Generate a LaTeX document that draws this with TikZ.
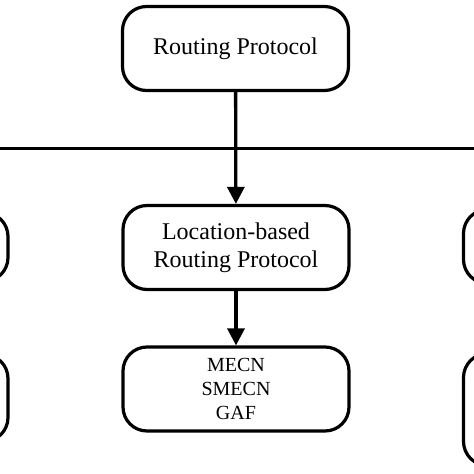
\documentclass[tikz,border=0pt]{standalone}
\usepackage{fontspec}
\setmainfont{Liberation Serif}
\usetikzlibrary{arrows.meta}

\tikzset{
  box/.style={draw, line width=3.2pt, rounded corners=24pt, minimum width=226pt,
    minimum height=84pt, align=center, font=\fontsize{24}{28}\selectfont},
  smallbox/.style={box, font=\fontsize{20}{24}\selectfont},
  link/.style={line width=3.3pt, -{Triangle[length=17pt,width=17pt]}}
}

\begin{document}
\begin{tikzpicture}[x=1pt,y=-1pt]
\clip (0,0) rectangle (474,474);
\fill[white] (0,0) rectangle (474,474);
% root
\node[box] (root) at (235.5,48.5) {Routing Protocol};
% middle column
\node[box] (loc) at (236,247.5) {Location-based\\Routing Protocol};
\node[smallbox] (locex) at (236,389) {MECN\\SMECN\\GAF};
% columns cut off at the sides
\node[box, minimum height=69pt] (left) at (-105,247) {};
\node[box, minimum height=87pt] (leftex) at (-105,398) {};
\node[box, minimum height=74pt] (right) at (576.5,246.5) {};
\node[box, minimum height=112pt] (rightex) at (576.5,409.5) {};
% bar
\coordinate (barl) at (-120,148);
\coordinate (barr) at (600,148);
\draw[line width=3pt] (barl) -- (barr);
\draw[link] (root) -- (loc);
\draw[link] (loc) -- (locex);
\end{tikzpicture}
\end{document}
